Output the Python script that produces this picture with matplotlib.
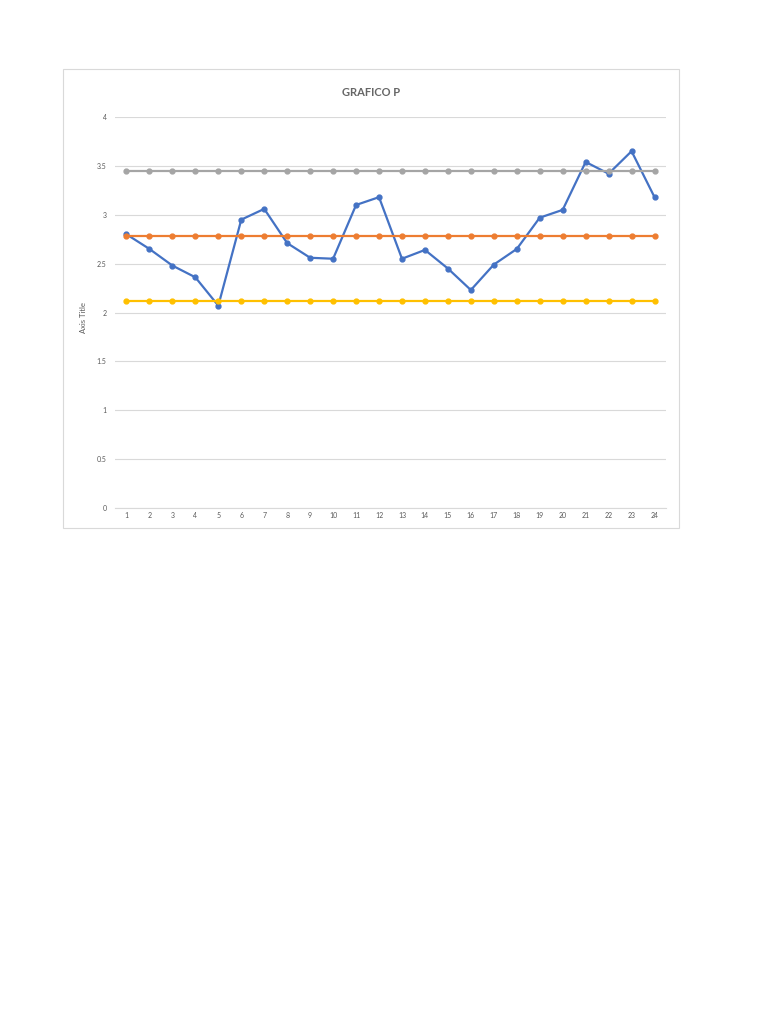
import matplotlib
matplotlib.use("Agg")
import matplotlib.pyplot as plt
from matplotlib.patches import Rectangle

# Data
samples = list(range(1, 25))
p_values = [2.80, 2.65, 2.48, 2.36, 2.07, 2.95, 3.06, 2.71, 2.56, 2.55, 3.10, 3.18,
            2.55, 2.64, 2.45, 2.23, 2.49, 2.65, 2.97, 3.05, 3.54, 3.42, 3.65, 3.18]
cl_value = 2.78
ucl_value = 3.445
lcl_value = 2.117
cl = [cl_value] * 24
ucl = [ucl_value] * 24
lcl = [lcl_value] * 24
y_ticks = [0, 0.5, 1, 1.5, 2, 2.5, 3, 3.5, 4]
y_tick_labels = ["0", "0.5", "1", "1.5", "2", "2.5", "3", "3.5", "4"]
title = "GRAFICO P"
y_title = "Axis Title"

plt.rcParams['font.family'] = ['Lato', 'DejaVu Sans']

fig = plt.figure(figsize=(7.68, 10.24), dpi=100)
fig.patch.set_facecolor("white")

# chart border
fig.patches.append(Rectangle((63/768, 1-528/1024), 616/768, 459/1024,
                             transform=fig.transFigure, fill=False,
                             edgecolor="#d9d9d9", linewidth=0.8))

ax = fig.add_axes([115/768, 1-508/1024, 551/768, 391/1024])
ax.set_xlim(0.5, 24.5)
ax.set_ylim(0, 4)
ax.set_yticks(y_ticks)
ax.set_yticklabels(y_tick_labels)
ax.set_xticks(samples)
ax.set_xticklabels([str(s) for s in samples])
ax.tick_params(axis="both", length=0, labelsize=5, labelcolor="#595959")
ax.tick_params(axis="y", pad=6)
ax.tick_params(axis="x", pad=3)
for s in ["top", "right", "left"]:
    ax.spines[s].set_visible(False)
ax.spines["bottom"].set_color("#d9d9d9")
ax.spines["bottom"].set_linewidth(0.8)
ax.grid(axis="y", color="#d9d9d9", linewidth=0.8)
ax.set_axisbelow(True)

ax.plot(samples, p_values, color="#4472C4", linewidth=1.6, marker="o", markersize=3.5)
ax.plot(samples, cl, color="#ED7D31", linewidth=1.6, marker="o", markersize=3.5)
ax.plot(samples, ucl, color="#A5A5A5", linewidth=1.6, marker="o", markersize=3.5)
ax.plot(samples, lcl, color="#FFC000", linewidth=1.6, marker="o", markersize=3.5)

fig.text(371/768, 1-93/1024, title, ha="center", va="center", fontsize=8,
         fontweight="bold", color="#666666")
fig.text(83/768, 1-318/1024, y_title, ha="center", va="center", rotation=90,
         fontsize=5.5, color="#595959")

fig.savefig("out.png", dpi=100)
